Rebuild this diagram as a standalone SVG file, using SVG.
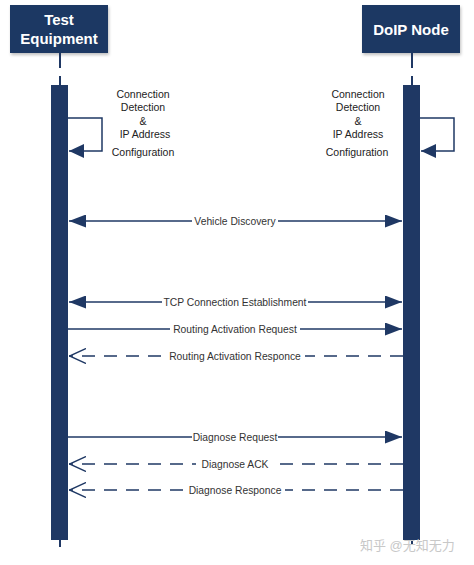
<svg xmlns="http://www.w3.org/2000/svg" width="474" height="565" viewBox="0 0 474 565">
<style>
.box{fill:#1f3864}
.bar{fill:#1f3864}
.life{stroke:#1f3864;stroke-width:2;fill:none}
.hdr{font-family:"Liberation Sans",Arial,sans-serif;font-weight:bold;font-size:15px;fill:#ffffff;text-anchor:middle}
.note{font-family:"Liberation Sans",Arial,sans-serif;font-size:10.5px;fill:#222;text-anchor:middle}
.lbl{font-family:"Liberation Sans",Arial,sans-serif;font-size:10.3px;fill:#333;text-anchor:middle}
.msg{stroke:#1f3864;stroke-width:1.5;fill:none}
.dash{stroke-dasharray:13 9}
.wm{font-family:"Liberation Sans","Noto Sans CJK SC",sans-serif;font-size:13px;fill:#c8c8c8}
</style>
<defs>
<marker id="fa" viewBox="0 0 17 13" refX="17" refY="6.5" markerWidth="17" markerHeight="13" markerUnits="userSpaceOnUse" orient="auto-start-reverse"><path d="M0,0 L17,6.5 L0,13 z" fill="#1f3864"/></marker>
<marker id="fl" viewBox="0 0 15 14" refX="15" refY="7" markerWidth="15" markerHeight="14" markerUnits="userSpaceOnUse" orient="auto"><path d="M0,0 L15,7 L0,14 z" fill="#1f3864"/></marker>
<marker id="oa" viewBox="0 0 17 16" refX="17" refY="8" markerWidth="17" markerHeight="16" markerUnits="userSpaceOnUse" orient="auto"><path d="M0,0.5 L16.5,8 L0,15.5" fill="none" stroke="#1f3864" stroke-width="1.4"/></marker>
<filter id="sh" x="-10%" y="-10%" width="130%" height="140%"><feDropShadow dx="1" dy="2" stdDeviation="1.5" flood-color="#000" flood-opacity="0.25"/></filter>
</defs>

<g id="test-equipment">
<rect class="box" x="10" y="5" width="98" height="48" filter="url(#sh)"/>
<text class="hdr" x="59" y="25">Test</text>
<text class="hdr" x="59" y="44">Equipment</text>
<path class="life" d="M60,53 V68 M60,76 V86 M60,538 V547"/>
<rect class="bar" x="51" y="85" width="17" height="455"/>
</g>

<g id="doip-node">
<rect class="box" x="362" y="5" width="98" height="48" filter="url(#sh)"/>
<text class="hdr" x="411" y="35">DoIP Node</text>
<path class="life" d="M412,53 V68 M412,76 V86 M412,538 V545"/>
<rect class="bar" x="403" y="85" width="17" height="455"/>
</g>

<g id="notes">
<text class="note" x="143" y="98">Connection</text>
<text class="note" x="143" y="111">Detection</text>
<text class="note" x="143" y="125">&amp;</text>
<text class="note" x="145" y="138">IP Address</text>
<text class="note" x="143" y="156">Configuration</text>
<text class="note" x="358" y="98">Connection</text>
<text class="note" x="358" y="111">Detection</text>
<text class="note" x="358" y="125">&amp;</text>
<text class="note" x="358" y="138">IP Address</text>
<text class="note" x="357" y="156">Configuration</text>
</g>

<g id="connectors">
<path class="msg" d="M68,118 H102 V151 H69" marker-end="url(#fl)"/>
<path class="msg" d="M420,118 H454 V151 H421" marker-end="url(#fl)"/>

<path class="msg" d="M69,221 H402" marker-start="url(#fa)" marker-end="url(#fa)"/>
<path class="msg" d="M69,302 H402" marker-start="url(#fa)" marker-end="url(#fa)"/>
<path class="msg" d="M68,329 H402" marker-end="url(#fa)"/>
<path class="msg dash" d="M403,356 H69" marker-end="url(#oa)"/>
<path class="msg" d="M68,437 H402" marker-end="url(#fa)"/>
<path class="msg dash" d="M403,464 H69" marker-end="url(#oa)"/>
<path class="msg dash" d="M403,490 H69" marker-end="url(#oa)"/>
</g>

<g id="labels">
<rect x="192" y="214" width="86" height="14" fill="#fff"/>
<text class="lbl" x="235" y="225">Vehicle Discovery</text>
<rect x="162" y="295" width="146" height="14" fill="#fff"/>
<text class="lbl" x="235" y="306">TCP Connection Establishment</text>
<rect x="170" y="322" width="130" height="14" fill="#fff"/>
<text class="lbl" x="235" y="333">Routing Activation Request</text>
<rect x="165" y="349" width="140" height="14" fill="#fff"/>
<text class="lbl" x="235" y="360">Routing Activation Responce</text>
<rect x="192" y="430" width="86" height="14" fill="#fff"/>
<text class="lbl" x="235" y="441">Diagnose Request</text>
<rect x="196" y="457" width="78" height="14" fill="#fff"/>
<text class="lbl" x="235" y="468">Diagnose ACK</text>
<rect x="185" y="483" width="100" height="14" fill="#fff"/>
<text class="lbl" x="235" y="494">Diagnose Responce</text>
</g>

<text class="wm" x="360" y="550">知乎 @无知无力</text>
</svg>
